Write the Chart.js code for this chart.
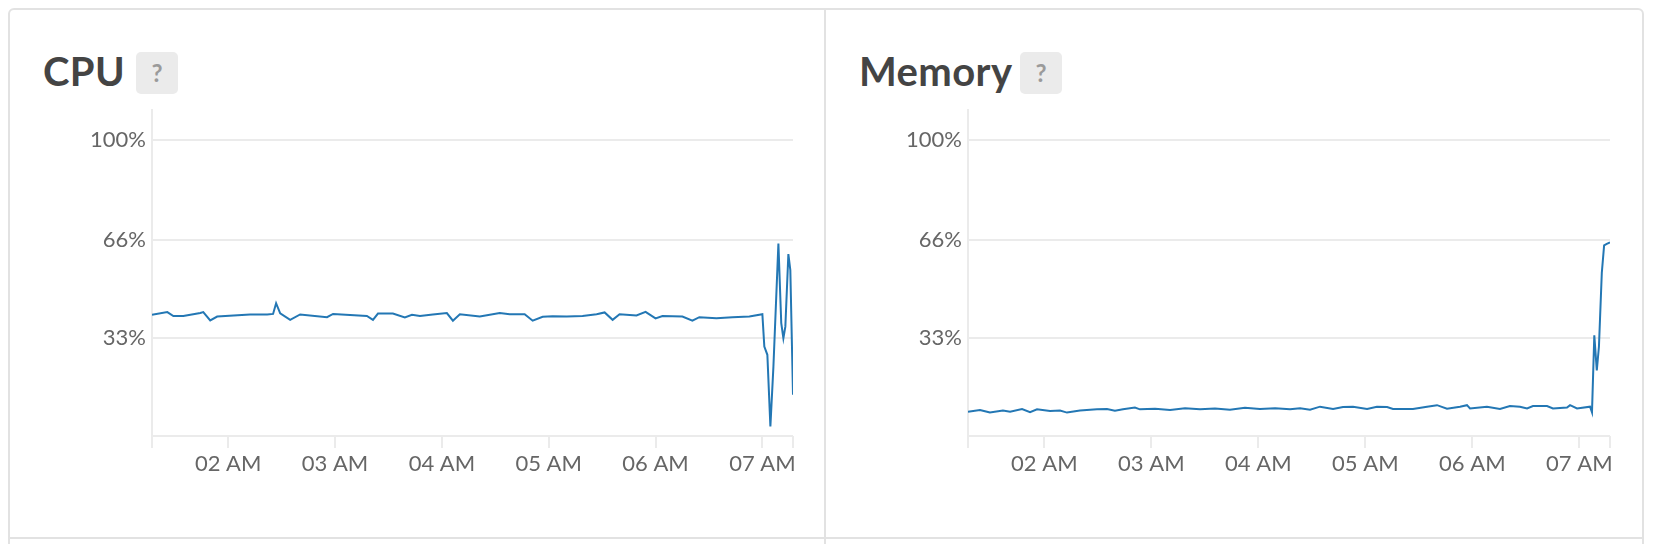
<!DOCTYPE html>
<html>
<head>
<meta charset="utf-8">
<script src="https://cdn.jsdelivr.net/npm/chart.js@4.4.1/dist/chart.umd.min.js"></script>
<style>
  body { margin: 0; background: #fff; width: 1654px; height: 544px; overflow: hidden; position: relative; font-family: Lato, sans-serif; }
  .frame { position: absolute; left: 8px; top: 8px; width: 1636px; height: 580px; box-sizing: border-box; border: 2px solid #e2e2e2; border-radius: 6px; }
  .divider { position: absolute; left: 824px; top: 8px; width: 2px; height: 536px; background: #e2e2e2; }
  .hline { position: absolute; left: 8px; top: 537px; width: 1636px; height: 2px; background: #e2e2e2; }
  .title { position: absolute; top: 51px; font-size: 40px; line-height: 40px; font-weight: 700; color: #444; letter-spacing: 0.4px; }
  .help { position: absolute; top: 52px; width: 42px; height: 42px; border-radius: 5px; background: #ebebeb; color: #9a9a9a; font-size: 24px; font-weight: 700; line-height: 42px; text-align: center; }
  .box { position: absolute; top: 100px; width: 815px; height: 400px; }
</style>
</head>
<body>
<div class="frame"></div>
<div class="divider"></div>
<div class="hline"></div>

<div class="title" style="left:43px">CPU</div>
<div class="help" style="left:136px">?</div>
<div class="title" style="left:859px">Memory</div>
<div class="help" style="left:1020px">?</div>

<div class="box" style="left:10px"><canvas id="cpuChart"></canvas></div>
<div class="box" style="left:826px; width:816px"><canvas id="memChart"></canvas></div>

<script>
// minutes after midnight
const cpuTimes = [77.2, 85.8, 89.2, 94.8, 104.3, 106, 109.9, 113.8, 132.3, 141.9, 145.2, 146.9, 149.2, 154.8, 160.4,
  175.5, 178.9, 197.9, 201.3, 204.1, 212.5, 219.2, 223.2, 227.7, 234.9, 242.8, 246.2, 250.1, 261.3, 272.5,
  278.1, 286.5, 291, 296.6, 302.2, 310.1, 319, 326.9, 331.4, 335.9, 339.8, 349.3, 354.4, 360, 363.9,
  375.1, 380.7, 384.6, 394.2, 403.2, 412.7, 420, 421.1, 422.8, 424.5, 426.2, 429, 430.6, 431.8, 432.9,
  434.6, 435.7, 437.2];
const cpuValues = [40.9, 41.8, 40.5, 40.5, 41.5, 41.8, 39.0, 40.3, 41.0, 41.0, 41.2, 44.8, 41.4, 39.2, 41.0,
  40.1, 41.2, 40.5, 39.2, 41.3, 41.3, 40.0, 40.9, 40.5, 41.0, 41.5, 38.9, 41.1, 40.3, 41.5,
  41.1, 41.1, 38.9, 40.2, 40.4, 40.3, 40.5, 41.1, 41.7, 39.2, 41.1, 40.7, 41.9, 39.7, 40.5,
  40.3, 38.9, 40.1, 39.7, 40.1, 40.3, 41.1, 30.2, 27.4, 3.2, 23.4, 64.9, 38.1, 33.0, 36.9,
  61.4, 56.0, 13.9];

const memTimes = [77.2, 83.9, 89.5, 96.8, 100.8, 107.5, 112.0, 115.9, 123.2, 128.8, 132.7, 140.0, 149.5, 155.1,
  159.6, 164.1, 170.8, 173.6, 182.1, 190.5, 198.9, 207.3, 215.7, 224.1, 232.5, 240.9, 249.4, 257.8,
  263.4, 269.0, 274.6, 281.9, 287.5, 293.1, 301.0, 306.5, 312.2, 315.5, 326.7, 334.6, 340.2, 345.8,
  353.1, 357.0, 358.7, 368.2, 375.5, 381.1, 386.7, 390.7, 394.0, 401.9, 405.2, 413.1, 414.8, 418.7,
  426.0, 427.1, 428.4, 429.8, 431.0, 432.6, 433.9, 435.4, 437.2];
const memValues = [8.2, 8.8, 7.9, 8.6, 8.2, 9.1, 8.0, 9.0, 8.4, 8.6, 7.9, 8.6, 9.0, 9.1,
  8.5, 9.0, 9.6, 9.0, 9.2, 8.8, 9.4, 9.0, 9.3, 8.9, 9.5, 9.1, 9.4, 9.0,
  9.4, 8.9, 9.9, 9.1, 9.8, 9.9, 9.1, 9.9, 9.8, 9.1, 9.1, 9.9, 10.4, 9.2,
  9.9, 10.4, 9.3, 9.9, 9.1, 10.1, 9.9, 9.3, 10.1, 10.1, 9.3, 9.6, 10.4, 9.3,
  9.9, 8.0, 34.0, 22.1, 30.2, 55.0, 64.3, 64.8, 65.3];

const xMin = 77.2;
const xMax = 437.2;
const tickMinutes = [120, 180, 240, 300, 360, 420];
const tickLabels = ['02 AM', '03 AM', '04 AM', '05 AM', '06 AM', '07 AM'];
const yTicks = [0, 33, 66, 100];

const gridColor = '#ebebeb';
const lineColor = '#2377b4';

function makeChart(canvasId, times, values) {
  const points = times.map((t, i) => ({ x: t, y: values[i] }));
  return new Chart(document.getElementById(canvasId), {
    type: 'line',
    data: {
      datasets: [{
        data: points,
        borderColor: lineColor,
        borderWidth: 2,
        pointRadius: 0,
        tension: 0,
        fill: false
      }]
    },
    options: {
      responsive: true,
      maintainAspectRatio: false,
      animation: false,
      layout: { padding: { left: 0, right: 32, top: 10, bottom: 0 } },
      plugins: { legend: { display: false }, tooltip: { enabled: false } },
      scales: {
        x: {
          type: 'linear',
          min: xMin,
          max: xMax,
          afterBuildTicks: scale => {
            scale.ticks = [xMin].concat(tickMinutes, [xMax]).map(v => ({ value: v }));
          },
          afterFit: scale => {
            scale.height = 64;
            scale.paddingLeft = 0;
            scale.paddingRight = 0;
          },
          border: { display: false },
          grid: { drawOnChartArea: false, drawTicks: true, tickLength: 12, color: gridColor, lineWidth: 2 },
          ticks: {
            autoSkip: false,
            maxRotation: 0,
            minRotation: 0,
            padding: 3,
            color: '#666',
            font: { family: 'Lato', size: 22 },
            callback: value => {
              const i = tickMinutes.indexOf(value);
              return i >= 0 ? tickLabels[i] : '';
            }
          }
        },
        y: {
          min: 0,
          max: 110,
          afterBuildTicks: scale => {
            scale.ticks = yTicks.map(v => ({ value: v }));
          },
          afterFit: scale => {
            scale.width = 142;
            scale.paddingTop = 0;
            scale.paddingBottom = 0;
          },
          border: { display: true, color: gridColor, width: 2 },
          grid: { drawTicks: false, color: gridColor, lineWidth: 2 },
          ticks: {
            padding: 6,
            color: '#666',
            font: { family: 'Lato', size: 22 },
            callback: value => value === 0 ? '' : value + '%'
          }
        }
      }
    }
  });
}

makeChart('cpuChart', cpuTimes, cpuValues);
makeChart('memChart', memTimes, memValues);
</script>
</body>
</html>
